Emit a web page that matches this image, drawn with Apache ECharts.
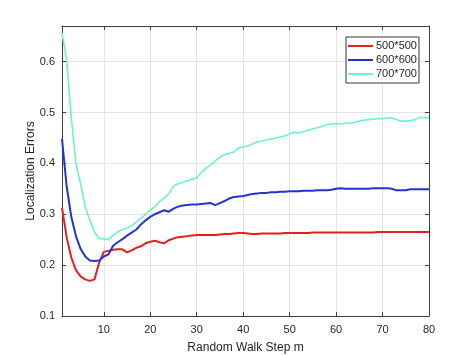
<!DOCTYPE html>
<html>
<head>
<meta charset="utf-8">
<script src="https://cdn.jsdelivr.net/npm/echarts@6/dist/echarts.min.js"></script>
<style>html,body{margin:0;padding:0;background:#fff;}#c{width:474px;height:355px;}</style>
</head>
<body>
<div id="c"></div>
<script>
var steps = [];
for (var i = 1; i <= 80; i++) steps.push(i);
var seriesNames = ['500*500', '600*600', '700*700'];
var err500 = [0.313,0.255,0.215,0.19,0.178,0.172,0.169,0.172,0.205,0.226,
  0.228,0.23,0.231,0.231,0.225,0.229,0.234,0.237,0.243,0.246,
  0.248,0.245,0.243,0.249,0.252,0.255,0.256,0.257,0.258,0.259,
  0.259,0.259,0.259,0.259,0.260,0.261,0.261,0.262,0.263,0.263,
  0.262,0.261,0.261,0.262,0.262,0.262,0.262,0.262,0.263,0.263,
  0.263,0.263,0.263,0.263,0.264,0.264,0.264,0.264,0.264,0.264,
  0.264,0.264,0.264,0.264,0.264,0.264,0.264,0.264,0.265,0.265,
  0.265,0.265,0.265,0.265,0.265,0.265,0.265,0.265,0.265,0.265];
var err600 = [0.448,0.355,0.295,0.257,0.232,0.217,0.209,0.208,0.209,0.217,
  0.221,0.238,0.245,0.251,0.258,0.264,0.27,0.28,0.288,0.295,
  0.3,0.304,0.308,0.305,0.311,0.315,0.317,0.318,0.319,0.319,
  0.32,0.321,0.322,0.318,0.322,0.326,0.331,0.334,0.335,0.336,
  0.338,0.340,0.341,0.342,0.342,0.343,0.343,0.344,0.344,0.345,
  0.345,0.345,0.346,0.346,0.346,0.347,0.347,0.347,0.348,0.35,
  0.351,0.35,0.35,0.35,0.35,0.35,0.35,0.351,0.351,0.351,
  0.351,0.35,0.347,0.347,0.347,0.349,0.349,0.349,0.349,0.349];
var err700 = [0.656,0.604,0.49,0.40,0.36,0.315,0.288,0.265,0.252,0.252,
  0.25,0.259,0.265,0.27,0.273,0.277,0.285,0.292,0.3,0.308,
  0.315,0.325,0.332,0.34,0.355,0.36,0.363,0.366,0.369,0.371,
  0.382,0.39,0.397,0.405,0.412,0.417,0.42,0.422,0.43,0.432,
  0.434,0.438,0.442,0.444,0.446,0.448,0.45,0.452,0.454,0.458,
  0.461,0.46,0.462,0.465,0.468,0.47,0.473,0.476,0.478,0.478,
  0.478,0.479,0.479,0.481,0.483,0.485,0.486,0.487,0.488,0.488,
  0.489,0.489,0.486,0.483,0.483,0.484,0.486,0.49,0.49,0.49];
var xTicks = [10,20,30,40,50,60,70,80];
var yTicks = [0.1,0.2,0.3,0.4,0.5,0.6];

function pairs(vals){ return steps.map(function(s,i){ return [s, vals[i]]; }); }

var font = 'Liberation Sans, Arial, sans-serif';
var axisCol = '#404040';
var txtCol = '#262626';
var chart = echarts.init(document.getElementById('c'), null, {renderer:'canvas'});
chart.setOption({
  animation: false,
  backgroundColor: '#fff',
  grid: {left: 62, right: 45, top: 26, bottom: 39, containLabel: false, outerBoundsMode: 'none'},
  legend: {
    orient: 'vertical', left: 346, top: 37,
    data: seriesNames,
    icon: 'rect', itemWidth: 25, itemHeight: 2, itemGap: 2,
    padding: [3, 2, 3, 2],
    borderColor: '#333', borderWidth: 1, backgroundColor: '#fff',
    textStyle: {fontFamily: font, fontSize: 11, color: txtCol, lineHeight: 12, padding: [0,0,0,-2]}
  },
  xAxis: [{
    type: 'value', min: 1, max: 80, splitNumber: 8,
    name: 'Random Walk Step m', nameLocation: 'middle', nameGap: 26, nameMoveOverlap: false,
    nameTextStyle: {fontFamily: font, fontSize: 12, color: txtCol},
    axisLine: {show: true, lineStyle: {color: axisCol, width: 1}},
    axisTick: {show: true, inside: true, length: 4, lineStyle: {color: axisCol},
      customValues: xTicks},
    axisLabel: {fontFamily: font, fontSize: 11, color: txtCol, margin: 8,
      customValues: xTicks},
    splitLine: {show: true, lineStyle: {color: '#e4e4e4', width: 1}}
  }, {
    type: 'value', min: 1, max: 80, splitNumber: 8, position: 'top',
    axisLine: {show: true, onZero: false, lineStyle: {color: axisCol, width: 1}},
    axisTick: {show: true, inside: true, length: 4, lineStyle: {color: axisCol}, customValues: xTicks},
    axisLabel: {show: false},
    splitLine: {show: false}
  }],
  yAxis: [{
    type: 'value', min: 0.1, max: 0.67, interval: 0.1,
    name: 'Localization Errors', nameLocation: 'middle', nameGap: 25, nameMoveOverlap: false,
    nameTextStyle: {fontFamily: font, fontSize: 12, color: txtCol},
    axisLine: {show: true, lineStyle: {color: axisCol, width: 1}},
    axisTick: {show: true, inside: true, length: 4, lineStyle: {color: axisCol}, customValues: yTicks},
    axisLabel: {fontFamily: font, fontSize: 11, color: txtCol, margin: 7, customValues: yTicks,
      formatter: function(v){ return (Math.round(v*10)/10).toFixed(1); }},
    splitLine: {show: true, lineStyle: {color: '#e4e4e4', width: 1}}
  }, {
    type: 'value', min: 0.1, max: 0.67, interval: 0.1, position: 'right',
    axisLine: {show: true, onZero: false, lineStyle: {color: axisCol, width: 1}},
    axisTick: {show: true, inside: true, length: 4, lineStyle: {color: axisCol}, customValues: yTicks},
    axisLabel: {show: false},
    splitLine: {show: false}
  }],
  series: [
    {name: seriesNames[0], type: 'line', data: pairs(err500), showSymbol: false, symbol: 'none',
      lineStyle: {color: '#e61e1e', width: 2}, itemStyle: {color: '#e61e1e'}},
    {name: seriesNames[1], type: 'line', data: pairs(err600), showSymbol: false, symbol: 'none',
      lineStyle: {color: '#2233d4', width: 2}, itemStyle: {color: '#2233d4'}},
    {name: seriesNames[2], type: 'line', data: pairs(err700), showSymbol: false, symbol: 'none',
      lineStyle: {color: '#6af2d6', width: 1.6}, itemStyle: {color: '#6af2d6'}}
  ]
});
</script>
</body>
</html>
